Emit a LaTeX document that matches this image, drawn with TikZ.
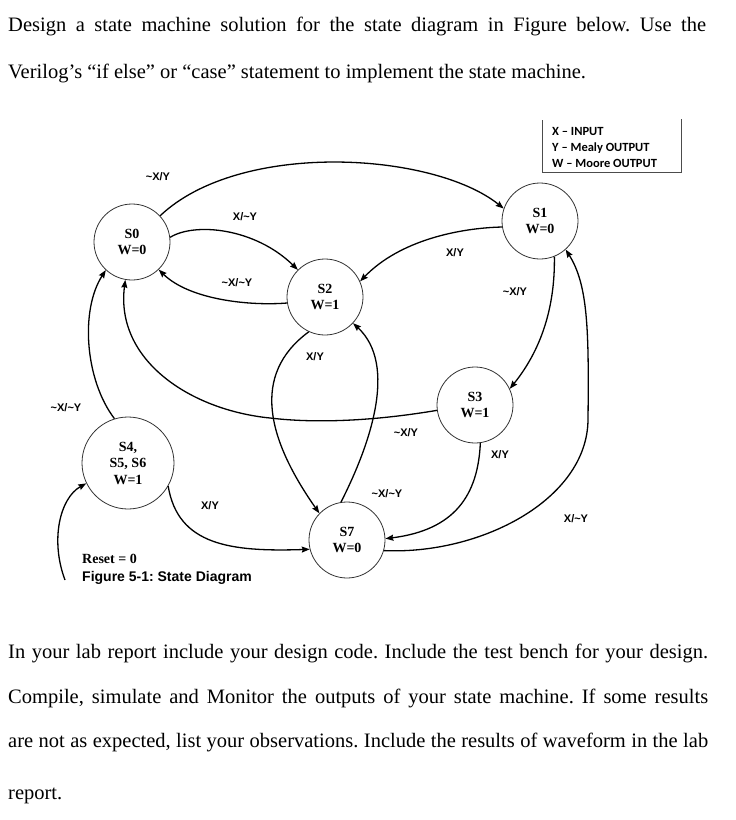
\documentclass[tikz,border=0pt]{standalone}
\usepackage{fontspec}
\setmainfont{Liberation Serif}
\newfontfamily\arialf{Liberation Sans}
\newfontfamily\calf{Carlito}
\usetikzlibrary{arrows.meta}
\newcommand\mytil{\textasciitilde}
\frenchspacing
\begin{document}
\begin{tikzpicture}[x=1pt,y=-1pt,
  st/.style={circle,draw=black!80,line width=0.8pt,minimum size=76pt,inner sep=0pt,align=center,
    font=\bfseries\fontsize{14}{16.5}\selectfont},
  tr/.style={line width=1.3pt,-{Stealth[length=8pt,width=6pt,inset=1pt]}},
  lb/.style={font=\arialf\bfseries\fontsize{11}{13}\selectfont,inner sep=0pt},
  lg/.style={anchor=base west,inner sep=0pt,font=\calf\bfseries\fontsize{12.5}{15}\selectfont},
  para/.style={anchor=base west,inner sep=0pt,font=\fontsize{20.5}{24}\selectfont}]
\useasboundingbox[fill=white] (0,0) rectangle (736,820);

% paragraph text
\node[para] (t1) at (8,31) {\makebox[698pt][s]{Design a state machine solution for the state diagram in Figure below. Use the}};
\node[para] (t2) at (8,78) {Verilog’s “if else” or “case” statement to implement the state machine.};
\node[para] (b1) at (8,658) {\makebox[700pt][s]{In your lab report include your design code. Include the test bench for your design.}};
\node[para] (b2) at (8,703) {\makebox[700pt][s]{Compile, simulate and Monitor the outputs of your state machine. If some results}};
\node[para] (b3) at (8,747) {\makebox[700pt][s]{are not as expected, list your observations. Include the results of waveform in the lab}};
\node[para] (b4) at (8,799) {report.};

% legend
\draw[black!70,line width=0.9pt] (542,120) -- (542,172) -- (681,172) -- (681,119);
\node[lg] (lg1) at (552,135) {X – INPUT};
\node[lg] (lg2) at (552,151) {Y – Mealy OUTPUT};
\node[lg] (lg3) at (552,167) {W – Moore OUTPUT};

% states
\node[st] (S0) at (132,242) {S0\\W=0};
\node[st] (S1) at (540,221) {S1\\W=0};
\node[st] (S2) at (325,297) {S2\\W=1};
\node[st] (S3) at (475,405) {S3\\W=1};
\node[st] (S7) at (347,540) {S7\\W=0};
\node[st,minimum size=92pt] (S4) at (128,463) {S4,\\S5, S6\\W=1};

% transitions
\draw[tr] (S0.43) .. controls (240,140) and (433,152) .. (S1.161);
\draw[tr] (S0.7) .. controls (195,222) and (255,228) .. (S2.135);
\draw[tr] (S2.189) .. controls (250,306) and (190,300) .. (S0.-46);
\draw[tr] (S4.107) .. controls (85,380) and (80,310) .. (S0.227);
\draw[tr] (S3.188) .. controls (380,420) and (320,424) .. (270,418)
   .. controls (190,410) and (115,360) .. (S0.260);
\draw[tr] (S1.189) .. controls (460,228) and (400,240) .. (S2.24);
\draw[tr] (S1.292) .. controls (555,300) and (545,345) .. (S3.25);
\draw[tr] (S3.278) .. controls (478,495) and (455,530) .. (S7.2);
\draw[tr] (S7.344) .. controls (480,555) and (587,500) .. (588,420)
   .. controls (589,330) and (588,285) .. (S1.312);
\draw[tr] (S4.330) .. controls (178,545) and (230,552) .. (S7.194);
\draw[tr] (S2.245) .. controls (250,375) and (268,440) .. (S7.136);
\draw[tr] (S7.99) .. controls (370,445) and (398,365) .. (S2.317);
\coordinate (rs) at (65,580);
\draw[tr] (rs) .. controls (50,540) and (60,498) .. (S4.206);

% transition labels
\node[lb] (l1) at (158,177) {\mytil X/Y};
\node[lb] (l2) at (245,217) {X/\mytil Y};
\node[lb] (l3) at (237,283) {\mytil X/\mytil Y};
\node[lb] (l4) at (66,408) {\mytil X/\mytil Y};
\node[lb] (l5) at (315,357) {X/Y};
\node[lb] (l6) at (387,494) {\mytil X/\mytil Y};
\node[lb] (l7) at (406,433) {\mytil X/Y};
\node[lb] (l8) at (455,253) {X/Y};
\node[lb] (l9) at (515,292) {\mytil X/Y};
\node[lb] (l10) at (500,455) {X/Y};
\node[lb] (l11) at (576,519) {X/\mytil Y};
\node[lb] (l12) at (210,506) {X/Y};

% caption
\node[anchor=base west,inner sep=0pt,font=\bfseries\fontsize{14}{16}\selectfont] (reset) at (82,563) {Reset = 0};
\node[anchor=base west,inner sep=0pt,font=\arialf\bfseries\fontsize{14}{16}\selectfont] (cap) at (82,581) {Figure 5-1: State Diagram};
\end{tikzpicture}
\end{document}
